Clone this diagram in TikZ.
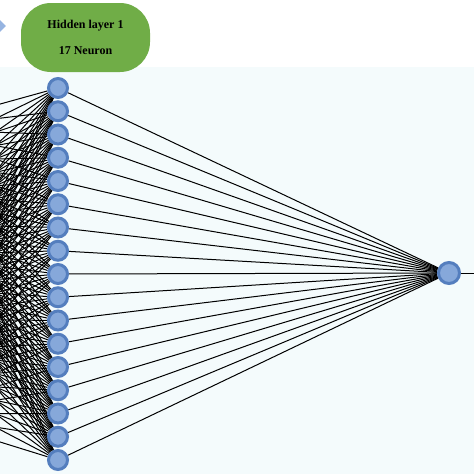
\documentclass[tikz,border=0pt]{standalone}
\usepackage{fontspec}
\setmainfont{Liberation Serif}
\usetikzlibrary{shapes.geometric}
\definecolor{bgc}{RGB}{244,251,252}
\definecolor{boxgreen}{RGB}{112,173,71}
\definecolor{nodeedge}{RGB}{84,126,190}
\definecolor{nodefill}{RGB}{134,168,218}
\definecolor{diamc}{RGB}{150,180,225}
\pgfdeclarelayer{bg}
\pgfsetlayers{bg,main}
\tikzset{
  neuron/.style={circle, draw=nodeedge, fill=nodefill, line width=3pt, minimum size=19pt, inner sep=0pt},
  outneuron/.style={neuron, minimum size=21pt},
  link/.style={draw=black, line width=1pt},
  labelbox/.style={rectangle, rounded corners=30pt, fill=boxgreen, minimum width=129pt, minimum height=69pt, align=center, font=\bfseries\fontsize{12}{26}\selectfont, inner sep=0pt},
  inmark/.style={diamond, fill=diamc, minimum size=14pt, inner sep=0pt}
}
\begin{document}
\begin{tikzpicture}[x=1pt,y=-1pt]
\useasboundingbox (0,0) rectangle (474,474);
% hidden neurons
\foreach \i in {1,...,17} {
  \node[neuron] (h\i) at (58,{88+(\i-1)*23.25}) {};
}
% output neuron
\node[outneuron] (o) at (449,273) {};
\coordinate (oend) at (480,273);
% input positions (off picture)
\foreach \j in {1,...,10} {
  \coordinate (in\j) at (-90,{129+(\j-1)*31.67});
}
\begin{pgfonlayer}{bg}
  \begin{scope}
    \clip (0,0) rectangle (474,474);
    \fill[white] (0,0) rectangle (474,67);
    \fill[bgc] (0,67) rectangle (474,474);
    \foreach \j in {1,...,10} {
      \foreach \i in {1,...,17} {
        \draw[link] (in\j) -- (h\i);
      }
    }
    \foreach \i in {1,...,17} {
      \draw[link] (h\i) -- (o);
    }
    \draw[link] (o) -- (oend);
  \end{scope}
\end{pgfonlayer}
% label box
\node[labelbox] (hl) at (85.5,37.5) {Hidden layer 1\\17 Neuron};
\node[inmark] (im) at (-1,26) {};
\end{tikzpicture}
\end{document}
